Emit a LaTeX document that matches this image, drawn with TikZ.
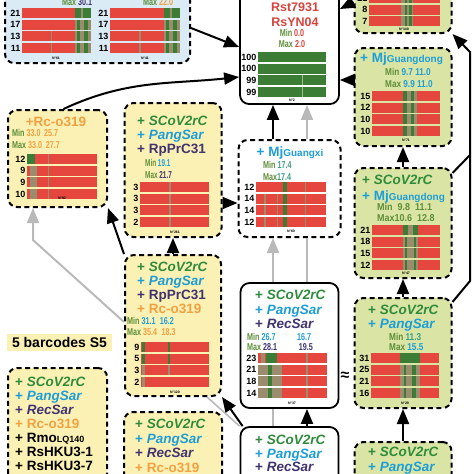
\documentclass[tikz,border=0pt]{standalone}
\usepackage{fontspec}
\setmainfont{Liberation Sans}
\usetikzlibrary{arrows.meta,calc}
\definecolor{cbar}{HTML}{E5473F}
\definecolor{cgrn}{HTML}{3B7D35}
\definecolor{cmix}{HTML}{9C8C6E}
\definecolor{cline}{HTML}{9DBB8E}
\definecolor{boxyellow}{HTML}{FCF1B5}
\definecolor{boxgreen}{HTML}{DAE5A5}
\definecolor{boxblue}{HTML}{DAEBF6}
\definecolor{tgreen}{HTML}{2E8B3B}
\definecolor{tcyan}{HTML}{1E9ED6}
\definecolor{tpurple}{HTML}{3F3370}
\definecolor{torange}{HTML}{F1A13F}
\definecolor{tred}{HTML}{D8443D}
\definecolor{tmin}{HTML}{5E8E3A}
\definecolor{tteal}{HTML}{3D9E86}

% genome names
\newcommand{\gSC}{\textcolor{tgreen}{+ \textit{SCoV2rC}}}
\newcommand{\gPS}{\textcolor{tcyan}{+ \textit{PangSar}}}
\newcommand{\gRS}{\textcolor{tpurple}{+ \textit{RecSar}}}
\newcommand{\gRP}{\textcolor{tpurple}{+ RpPrC31}}
\newcommand{\gRC}{\textcolor{torange}{+ Rc-o319}}
\newcommand{\gMJ}[1]{\textcolor{tcyan}{+ Mj{\fontsize{10}{10}\selectfont #1}}}
\newcommand{\mn}[1]{\textcolor{tmin}{#1}}
\newcommand{\cond}[2][0.72]{\scalebox{#1}[1]{#2}}

% barcode rows: x, top, width, labels
\newcommand{\barrows}[4]{%
  \foreach \lab [count=\i from 0] in {#4}{
    \fill[cbar] (#1,#2+11.7*\i) rectangle ++(#3,10);
    \node[rowlab] (rl\i) at (#1-1.5,#2+11.7*\i+5) {\lab};}}
% marks on rows: [colour] x, top, width, rows, from, to
\newcommand{\barmark}[7][cgrn]{%
  \foreach \r in {#5}
    \fill[#1] ({#2+#6*#4},{#3+11.7*\r}) rectangle ({#2+#7*#4},{#3+11.7*\r+10});}

\tikzset{
  ybox/.style={draw, line width=2pt, dash pattern=on 5pt off 3.5pt, rounded corners=9pt, fill=boxyellow},
  gbox/.style={ybox, fill=boxgreen},
  bbox/.style={ybox, fill=boxblue},
  wdbox/.style={ybox, fill=white},
  wbox/.style={draw, line width=1.8pt, rounded corners=9pt, fill=white},
  arr/.style={line width=2pt, -{Triangle[length=15pt,width=12pt]}},
  garr/.style={arr, color=gray!55},
  gline/.style={line width=1.6pt, gray!55},
  names/.style={font=\fontsize{13.5}{#1}\selectfont\bfseries, align=left, anchor=north west, inner sep=0pt},
  names/.default=14,
  minmax/.style={font=\fontsize{10}{#1}\selectfont\bfseries, align=left, anchor=north west, inner sep=0pt},
  minmax/.default=11.5,
  rowlab/.style={font=\fontsize{9}{9}\selectfont\bfseries, anchor=east, inner sep=0pt},
  nolab/.style={font=\fontsize{3.5}{4}\selectfont\bfseries, inner sep=0pt}
}

\begin{document}
\begin{tikzpicture}[x=1pt,y=-1pt]
\useasboundingbox (0,0) rectangle (474,474);
\clip (0,0) rectangle (474,474);

% boxes
\node[bbox, minimum width=185pt, minimum height=93pt] (L1) at (97.5,16.5) {};
\node[wbox, minimum width=99pt, minimum height=134pt] (C1) at (289.5,37) {};
\node[gbox, minimum width=97pt, minimum height=73pt] (R1) at (403,-3.5) {};
\node[gbox, minimum width=97pt, minimum height=98pt] (R2) at (403,97) {};
\node[gbox, minimum width=97pt, minimum height=110pt] (R3) at (403,223) {};
\node[gbox, minimum width=97pt, minimum height=110pt] (R4) at (403,353) {};
\node[gbox, minimum width=97pt, minimum height=58pt] (R5) at (403,471) {};
\node[wdbox, minimum width=102pt, minimum height=97pt] (C2) at (289.5,188.5) {};
\node[wbox, minimum width=98pt, minimum height=125pt] (C3) at (289.5,345.5) {};
\node[wbox, minimum width=98pt, minimum height=73pt] (C4) at (289.5,463.5) {};
\node[ybox, minimum width=99pt, minimum height=97pt] (L2) at (57.5,158.5) {};
\node[ybox, minimum width=97pt, minimum height=134pt] (L3) at (173,170) {};
\node[ybox, minimum width=96pt, minimum height=141pt] (L4) at (173,325.5) {};
\node[ybox, minimum width=99pt, minimum height=132pt] (L5) at (57.5,434) {};
\node[ybox, minimum width=98pt, minimum height=88pt] (L6) at (173,456) {};
\node[fill=boxyellow, minimum width=105pt, minimum height=17pt, inner sep=0pt,
      font=\fontsize{14}{14}\selectfont\bfseries] (S5) at (59.5,342.5) {5 barcodes S5};

% connectors
\draw[arr] ([yshift=-11.5pt]L1.east) -- ([yshift=-10pt]C1.west);
\draw[arr] ([xshift=6pt]L2.north) to[out=25,in=186] ([yshift=-40pt]C1.west);
\draw[arr] ([yshift=-5.5pt]R1.west) -- ([yshift=28pt]C1.east);
\draw[arr] ([yshift=17pt]R2.west) -- ([yshift=-43pt]C1.east);
\draw[arr] ([xshift=-16.5pt]C2.north) -- ([xshift=-16.5pt]C1.south);
\draw[garr] ([xshift=17.5pt]C2.north) -- ([xshift=17.5pt]C1.south);
\draw[garr] ([xshift=-16.5pt]C3.north) -- ([xshift=-16.5pt]C2.south);
\draw[gline] ([xshift=17.5pt]C3.north) -- ([xshift=17.5pt]C2.south);
\draw[gline] ([xshift=-16.5pt]C4.north) -- ([xshift=-16.5pt]C3.south);
\draw[arr] ([xshift=17.5pt]C4.north) -- ([xshift=17.5pt]C3.south);
\draw[gline] (C4.north west) -- ([xshift=-15pt]L4.south east);
\draw[arr] ([xshift=3pt]C4.north west) -- (L4.south east);
\draw[arr] (L4.north) -- (L3.south);
\draw[arr] (L4.north west) -- (L2.south east);
\coordinate (gb) at (33,240);
\draw[garr] ([yshift=3.5pt]L4.west) -- (gb) -- (gb |- L2.south);
\draw[arr] ([yshift=-33pt]L3.east) -- ([yshift=-33pt]L3.east -| C2.west);
\draw[arr] (R3.north) -- (R2.south);
\draw[arr] (R4.north) -- (R3.south);
\draw[arr] (R5.north) -- (R4.south);
\coordinate (rt1) at (470,155);
\coordinate (rt2) at (470,52);
\coordinate (rt3) at (470,281);
\draw[arr] ([yshift=-6pt]R3.north east) -- (rt1) -- (rt2) -- (R1.south east);
\draw[line width=2pt] ([yshift=-5pt]R4.north east) -- (rt3) -- (rt1);
\node[font=\fontsize{16}{16}\selectfont\bfseries, inner sep=0pt] (apx) at (345,376) {≈};

% L1: two barcodes
\node[minmax, anchor=west] (L1m) at (62,2.5) {\cond{\mn{Max} \textcolor{tpurple}{30.1}}};
\node[minmax, anchor=west] (L1mb) at (143,2.5) {\cond{\mn{Max} \textcolor{torange}{22.0}}};
\barrows{22}{8}{69}{21,17,13,11}
\barmark{22}{8}{69}{0}{0.77}{1}
\barmark[cmix]{22}{8}{69}{1,2,3}{0.77}{1}
\barmark{22}{8}{69}{1,2,3}{0.8}{0.84}
\barmark{22}{8}{69}{1,2,3}{0.9}{0.95}
\barmark[cmix]{22}{8}{69}{0}{0.86}{0.88}
\barmark[cmix]{22}{8}{69}{2,3}{0.42}{0.44}
\node[nolab] (L1n) at (56,58) {N°61};
\barrows{110}{8}{70}{21,17,13,11}
\barmark{110}{8}{70}{0}{0.77}{1}
\barmark[cmix]{110}{8}{70}{1,2,3}{0.77}{1}
\barmark{110}{8}{70}{1,2,3}{0.8}{0.84}
\barmark{110}{8}{70}{1,2,3}{0.9}{0.95}
\barmark[cmix]{110}{8}{70}{0}{0.86}{0.88}
\barmark[cmix]{110}{8}{70}{2,3}{0.42}{0.44}
\node[nolab] (L1nb) at (145,58) {N°41};

% C1
\node[font=\fontsize{12.5}{15}\selectfont\bfseries, align=center, anchor=north, inner sep=0pt, tred] (C1t) at (295,2.5) {Rst7931\\RsYN04};
\node[minmax=11, align=center, anchor=north] (C1m) at (292,29.5) {\cond{\mn{Min} \textcolor{tred}{0.0}}\\\cond{\mn{Max} \textcolor{tred}{2.0}}};
\barrows{258}{52}{68}{100,100,99,99}
\barmark{258}{52}{68}{0,1,2,3}{0}{1}
\barmark[cline]{258}{52}{68}{2,3}{0.645}{0.66}
\node[nolab] (C1n) at (292,100) {N°2};

% R1
\barrows{369}{-7}{71}{21,8,7}
\barmark[cmix]{369}{-7}{71}{0,1,2}{0.45}{0.62}
\barmark{369}{-7}{71}{0,1,2}{0.5}{0.53}
\barmark{369}{-7}{71}{0,1,2}{0.57}{0.6}
\node[nolab] (R1n) at (404,29) {N°140};

% R2
\node[names] (R2t) at (360,53) {\gMJ{Guangdong}};
\node[minmax] (R2m) at (385,68.5) {\cond[0.82]{\mn{Min} \textcolor{tcyan}{9.7 11.0}}\\\cond[0.82]{\mn{Max} \textcolor{tcyan}{9.9 11.0}}};
\barrows{372}{91}{68}{15,12,10,10}
\barmark[cmix]{372}{91}{68}{0,1,2,3}{0.46}{0.66}
\barmark{372}{91}{68}{0,1,2,3}{0.46}{0.52}
\barmark{372}{91}{68}{0,1,2,3}{0.58}{0.62}
\node[nolab] (R2n) at (406,140) {N°71};

% R3
\node[names=16] (R3t) at (362,175) {\gSC\\\gMJ{Guangdong}};
\node[minmax=10.5] (R3m) at (377,203.5) {\cond[0.9]{\mn{Min\ \ 9.8\ \ 11.1}}\\\cond[0.9]{\mn{Max10.6\ \ 12.8}}};
\barrows{372}{225}{68}{21,18,15,12}
\barmark{372}{225}{68}{0}{0.45}{0.67}
\barmark[cmix]{372}{225}{68}{0}{0.53}{0.6}
\barmark[cmix]{372}{225}{68}{1,2,3}{0.45}{0.67}
\barmark{372}{225}{68}{1,2,3}{0.48}{0.51}
\barmark{372}{225}{68}{1,2,3}{0.62}{0.65}
\node[nolab] (R3n) at (406,273) {N°47};

% R4
\node[names] (R4t) at (368,305) {\gSC\\\gPS};
\node[minmax=10] (R4m) at (389,333.5) {\cond[0.82]{\mn{Min} \textcolor{tteal}{11.3}}\\\cond[0.82]{\mn{Max} \textcolor{tcyan}{15.5}}};
\barrows{371}{353}{68}{31,25,21,16}
\barmark{371}{353}{68}{0}{0.43}{0.72}
\barmark[cmix]{371}{353}{68}{1,2,3}{0.43}{0.72}
\barmark{371}{353}{68}{1,2,3}{0.48}{0.52}
\barmark{371}{353}{68}{1,2,3}{0.6}{0.66}
\node[nolab] (R4n) at (405,403) {N°29};

% R5
\node[names=14.5] (R5t) at (368,447) {\gSC\\\gPS};

% C2
\node[font=\fontsize{13.5}{14}\selectfont\bfseries, anchor=north, inner sep=0pt] (C2t) at (290,147) {\gMJ{Guangxi}};
\node[minmax=12] (C2m) at (263,161.5) {\cond{\mn{Min} \textcolor{tteal}{17.4}}\\\cond{\mn{Max}\textcolor{tteal}{17.4}}};
\barrows{256}{182}{70}{12,14,14,12}
\barmark{256}{182}{70}{0,1,2,3}{0.38}{0.44}
\barmark[cmix]{256}{182}{70}{1,2,3}{0.12}{0.14}
\barmark[cmix]{256}{182}{70}{1,2,3}{0.3}{0.32}
\barmark[cmix]{256}{182}{70}{0,1,2,3}{0.7}{0.72}
\node[nolab] (C2n) at (291,231) {N°60};

% C3
\node[names=14.5] (C3t) at (255,290) {\gSC\\\gPS\\\gRS};
\node[minmax=10] (C3m) at (247,333.5) {\cond{\mn{Min} \textcolor{tcyan}{26.7\hspace{30pt}16.7}}\\\cond{\mn{Max} \textcolor{tpurple}{28.1\hspace{30pt}19.5}}};
\barrows{258}{353}{69}{23,21,18,14}
\barmark[cmix]{258}{353}{69}{0}{0.04}{0.1}
\barmark{258}{353}{69}{0}{0.12}{0.28}
\barmark[cmix]{258}{353}{69}{1,2,3}{0}{0.35}
\barmark{258}{353}{69}{1,2,3}{0.15}{0.2}
\barmark[cmix]{258}{353}{69}{0,1,2,3}{0.7}{0.72}
\node[nolab] (C3n) at (292,403) {N°37};

% C4
\node[names=13.5] (C4t) at (255,435) {\gSC\\\gPS\\\gRS};

% L2
\node[font=\fontsize{13.5}{14}\selectfont\bfseries, anchor=north, inner sep=0pt, torange] (L2t) at (56,117) {+Rc-o319};
\node[minmax=12] (L2m) at (12,129.5) {\cond{\mn{Min} \textcolor{torange}{33.0\hspace{5pt}25.7}}\\\cond{\mn{Max} \textcolor{torange}{33.0\hspace{5pt}27.7}}};
\barrows{27}{154}{70}{12,9,9,10}
\barmark{27}{154}{70}{0}{0}{0.12}
\barmark[cmix]{27}{154}{70}{1,2,3}{0.04}{0.15}
\barmark[cmix]{27}{154}{70}{0,1,2,3}{0.3}{0.32}
\node[nolab] (L2n) at (62,198) {N°92};

% L3
\node[names] (L3t) at (137,116) {\gSC\\\gPS\\\gRP};
\node[minmax=12] (L3m) at (145,159.5) {\cond[0.64]{\mn{Min} \textcolor{tcyan}{19.1}}\\\cond[0.64]{\mn{Max} \textcolor{tpurple}{21.7}}};
\barrows{140}{182}{69}{3,3,3,2}
\barmark[cmix]{140}{182}{69}{0,1,2,3}{0.42}{0.445}
\node[nolab] (L3n) at (175,232) {N°261};

% L4
\node[names] (L4t) at (137,262) {\gSC\\\gPS\\\gRP\\\gRC};
\node[minmax=11] (L4m) at (127,317.5) {\cond{\mn{Min} \textcolor{tcyan}{31.1\hspace{6pt}16.2}}\\\cond{\mn{Max} \textcolor{torange}{35.4\hspace{6pt}18.3}}};
\barrows{141}{342}{68}{9,5,3,2}
\barmark{141}{342}{68}{0,1}{0.02}{0.06}
\barmark{141}{342}{68}{0,1}{0.39}{0.42}
\barmark[cmix]{141}{342}{68}{2,3}{0.02}{0.06}
\barmark[cmix]{141}{342}{68}{2}{0.39}{0.42}
\node[nolab] (L4n) at (175,392) {N°120};

% L5, L6
\node[names] (L5t) at (15,377) {\gSC\\\gPS\\\gRS\\\gRC\\+ Rmo{\fontsize{9}{9}\selectfont LQ140}\\+ RsHKU3-1\\+ RsHKU3-7};
\node[names=14.5] (L6t) at (135,419) {\gSC\\\gPS\\\gRS\\\gRC};
\end{tikzpicture}
\end{document}
